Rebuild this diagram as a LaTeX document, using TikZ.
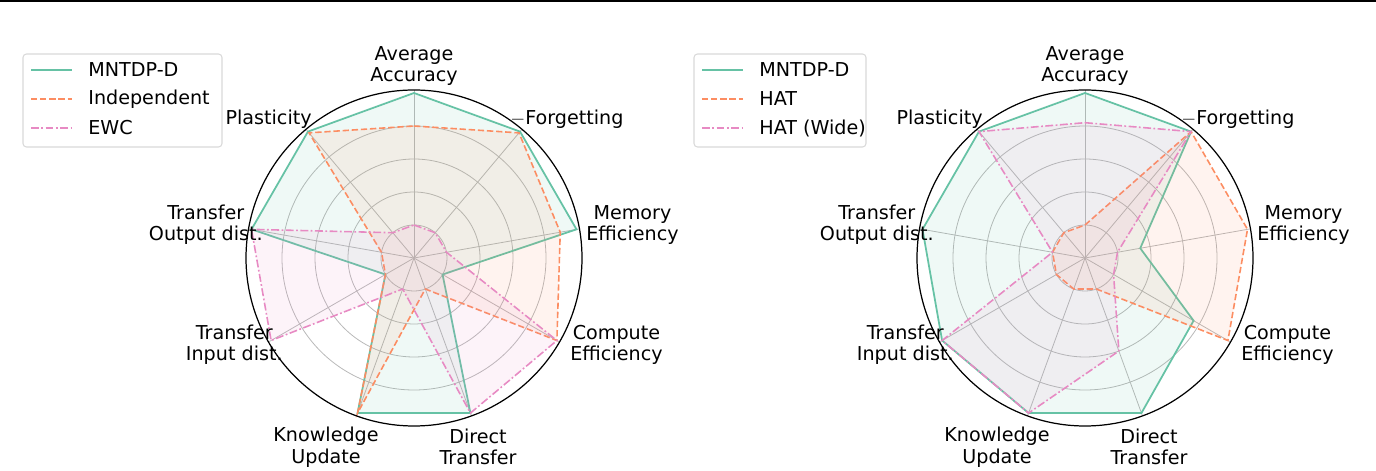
\documentclass[tikz,border=0pt]{standalone}
\usepackage{fontspec}
\setmainfont{DejaVu Sans}
\usetikzlibrary{calc}
\definecolor{cg}{HTML}{66C2A5}
\definecolor{co}{HTML}{FC8D62}
\definecolor{cp}{HTML}{E78AC3}
\tikzset{x=0.02cm,y=0.02cm,
 lbl/.style={font=\fontsize{10.9}{12.2}\selectfont,align=center,inner sep=0pt},
 grn/.style={draw=cg,line width=1pt,fill=cg,fill opacity=0.1,draw opacity=1,line join=miter},
 org/.style={draw=co,line width=0.9pt,dash pattern=on 3.6pt off 1.6pt,fill=co,fill opacity=0.1,draw opacity=1},
 pnk/.style={draw=cp,line width=0.9pt,dash pattern=on 4.5pt off 1.4pt on 1pt off 1.4pt,fill=cp,fill opacity=0.1,draw opacity=1},
 grid/.style={draw=black!28,line width=0.45pt},
 legbox/.style={draw=black!15,rounded corners=2pt,line width=0.6pt,fill=white}}
\newcommand\radarpoly[3]{\gdef\pth{}\foreach \v [count=\i from 0] in {#3}{\xdef\pth{\pth ($(#2)+({90-40*\i}:{165*\v})$) -- }}\draw[#1] \pth cycle;}
\newcommand\radarbase[1]{%
 \foreach \r in {33,66,99,132}{\draw[grid] (#1) circle (\r);}
 \foreach \i in {0,...,8}{\draw[grid] (#1) -- ($(#1)+({90-40*\i}:168)$);}
}
\begin{document}
\begin{tikzpicture}
\useasboundingbox (0,0) rectangle (1376,470);
\draw[line width=1.1pt] (0,469) -- (1376,469);
\coordinate (L) at (414,212);
\coordinate (R) at (1085,212);
\radarbase{L}
\radarbase{R}
% left
\radarpoly{grn}{L}{1,1,1,0.2,1,1,0.2,1,1}
\radarpoly{org}{L}{0.8,0.99,0.9,1,0.2,1,0.2,0.2,0.99}
\radarpoly{pnk}{L}{0.2,0.2,0.2,1,1,0.2,1,1,0.2}
% right
\radarpoly{grn}{R}{1,1,0.34,0.76,1,1,1,1,1}
\radarpoly{org}{R}{0.2,1,1,1,0.2,0.2,0.2,0.2,0.2}
\radarpoly{pnk}{R}{0.82,1,0.2,0.2,0.6,1,1,0.2,1}
\draw[line width=0.7pt] (L) circle (168);
\draw[line width=0.7pt] (R) circle (168);
% labels
\foreach \c/\n/\dx in {L/l/0,R/r/671}{
 \node[lbl] (\n a) at (414+\dx,404) {Average\\Accuracy};
 \node[lbl,anchor=west] (\n f) at (510+\dx,351) {$-$Forgetting};
 \node[lbl,anchor=west] (\n m) at (586+\dx,245) {Memory\\Efficiency};
 \node[lbl,anchor=west] (\n c) at (570+\dx,125) {Compute\\Efficiency};
 \node[lbl] (\n d) at (478+\dx,23) {Direct\\Transfer};
 \node[lbl] (\n k) at (326+\dx,23) {Knowledge\\Update};
 \node[lbl,anchor=east] (\n i) at (283+\dx,125) {Transfer\\Input dist.};
 \node[lbl,anchor=east] (\n o) at (263+\dx,245) {Transfer\\Output dist.};
 \node[lbl,anchor=east] (\n p) at (312+\dx,351) {Plasticity};
}
% legends
\draw[legbox] (23,416) rectangle (222,323);
\draw[legbox] (694,416) rectangle (866,323);
\foreach \x/\a/\b/\c in {0/Independent/EWC/l,671/HAT/HAT (Wide)/r}{
 \draw[cg,line width=1pt] (31+\x,400) -- (72+\x,400);
 \draw[co,line width=0.9pt,dash pattern=on 3.6pt off 1.6pt] (31+\x,371) -- (72+\x,371);
 \draw[cp,line width=0.9pt,dash pattern=on 4.5pt off 1.4pt on 1pt off 1.4pt] (31+\x,342) -- (72+\x,342);
 \node[lbl,anchor=west] (\c l1) at (88+\x,400) {MNTDP-D};
 \node[lbl,anchor=west] (\c l2) at (88+\x,371) {\a};
 \node[lbl,anchor=west] (\c l3) at (88+\x,342) {\b};
}
\end{tikzpicture}
\end{document}
